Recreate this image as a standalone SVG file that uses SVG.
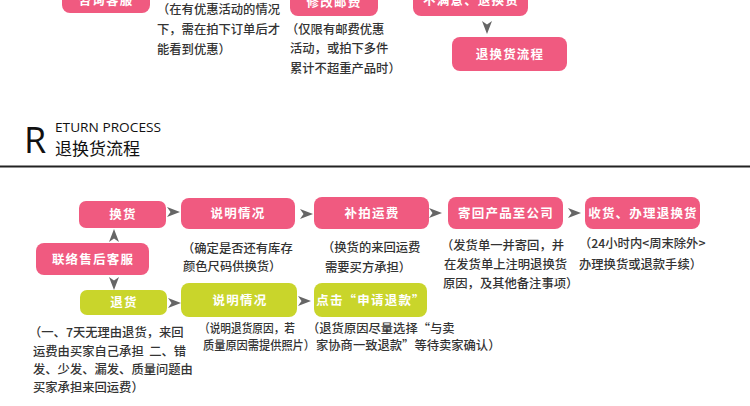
<svg xmlns="http://www.w3.org/2000/svg" width="750" height="406" viewBox="0 0 750 406">
<style>
.pink{fill:#f05a80}
.lime{fill:#c9d52b}
.lbl{font-family:"Noto Sans CJK SC","Noto Sans",sans-serif;font-size:12.5px;font-weight:bold;fill:#ffffff;text-anchor:middle;letter-spacing:1.2px}
.desc{font-family:"Noto Sans CJK SC","Noto Sans",sans-serif;font-size:12.3px;font-weight:500;fill:#333333}
.arw{fill:#666666}
</style>
<defs>
<path id="chev" d="M0,-5 L13,0 L0,5 L3.5,0 Z"/>
</defs>
<rect width="750" height="406" fill="#ffffff"/>

<!-- top partial section -->
<g id="n-zixun"><rect class="pink" x="62" y="-20" width="88" height="33" rx="8"/><text class="lbl" x="106" y="5">咨询客服</text></g>
<g id="n-zixun-desc"><text class="desc" x="157" y="13.5">（在有优惠活动的情况</text><text class="desc" x="157" y="33.5">下，需在拍下订单后才</text><text class="desc" x="157" y="53.5">能看到优惠）</text></g>
<g id="n-xiugai"><rect class="pink" x="290" y="-20" width="88" height="36" rx="8"/><text class="lbl" x="334" y="7">修改邮费</text></g>
<g id="n-xiugai-desc"><text class="desc" x="286" y="33.5">（仅限有邮费优惠</text><text class="desc" x="290" y="52.5">活动，或拍下多件</text><text class="desc" x="290" y="72.5">累计不超重产品时）</text></g>
<g id="n-bumanyi"><rect class="pink" x="413" y="-20" width="115" height="36" rx="8"/><text class="lbl" x="471" y="5">不满意、退换货</text></g>
<g id="n-liucheng"><rect class="pink" x="452" y="37" width="115" height="34" rx="8"/><text class="lbl" x="510" y="58.5">退换货流程</text></g>

<!-- title -->
<g id="title">
<text x="24" y="153" font-family="'Open Sans','DejaVu Sans',sans-serif" font-size="36" fill="#111">R</text>
<text x="55" y="132" font-family="'Open Sans','DejaVu Sans',sans-serif" font-size="13.5" fill="#111" textLength="106" lengthAdjust="spacingAndGlyphs">ETURN PROCESS</text>
<text x="55" y="154.5" font-family="'Noto Sans CJK SC',sans-serif" font-size="17" fill="#111">退换货流程</text>
<line x1="0" y1="166.5" x2="750" y2="166.5" stroke="#222" stroke-width="1.8"/>
</g>

<!-- row 1 -->
<g id="n-huanhuo"><rect class="pink" x="79" y="201" width="87" height="27" rx="7"/><text class="lbl" x="123" y="219">换货</text></g>
<g id="n-shuoming1"><rect class="pink" x="181" y="198" width="114" height="31" rx="8"/><text class="lbl" x="238" y="218">说明情况</text></g>
<g id="n-shuoming1-desc"><text class="desc" x="182" y="252.5">（确定是否还有库存</text><text class="desc" x="183" y="270.5">颜色尺码供换货）</text></g>
<g id="n-bupai"><rect class="pink" x="314" y="197" width="115" height="32" rx="8"/><text class="lbl" x="372" y="217.5">补拍运费</text></g>
<g id="n-bupai-desc"><text class="desc" x="322" y="251.5">（换货的来回运费</text><text class="desc" x="325" y="271.5">需要买方承担）</text></g>
<g id="n-jihui"><rect class="pink" x="448" y="197" width="115" height="32" rx="8"/><text class="lbl" x="506" y="217.5">寄回产品至公司</text></g>
<g id="n-jihui-desc"><text class="desc" x="441" y="249.5">（发货单一并寄回，并</text><text class="desc" x="444" y="268.5">在发货单上注明退换货</text><text class="desc" x="443" y="287.5">原因，及其他备注事项）</text></g>
<g id="n-shouhuo"><rect class="pink" x="585" y="197" width="115" height="32" rx="8"/><text class="lbl" x="643" y="217.5" letter-spacing="0">收货、办理退换货</text></g>
<g id="n-shouhuo-desc"><text class="desc" x="579" y="248">（24小时内&lt;周末除外&gt;</text><text class="desc" x="579" y="269">办理换货或退款手续）</text></g>

<g id="n-lianluo"><rect class="pink" x="36" y="243" width="113" height="32" rx="8"/><text class="lbl" x="93" y="263.5">联络售后客服</text></g>

<!-- row 2 -->
<g id="n-tuihuo"><rect class="lime" x="80" y="290" width="87" height="25" rx="7"/><text class="lbl" x="124" y="307">退货</text></g>
<g id="n-tuihuo-desc"><text class="desc" x="29" y="336.5">（一、7天无理由退货，来回</text><text class="desc" x="33" y="355.5">运费由买家自己承担&#160;&#160;二、错</text><text class="desc" x="33" y="373.5">发、少发、漏发、质量问题由</text><text class="desc" x="33" y="391.5">买家承担来回运费）</text></g>
<g id="n-shuoming2"><rect class="lime" x="181" y="283" width="116" height="34" rx="8"/><text class="lbl" x="240" y="304.5">说明情况</text></g>
<g id="n-shuoming2-desc"><text class="desc" x="199" y="332.5" textLength="96" lengthAdjust="spacingAndGlyphs">（说明退货原因，若</text><text class="desc" x="203" y="349.5" textLength="112" lengthAdjust="spacingAndGlyphs">质量原因需提供照片）</text></g>
<g id="n-dianji"><rect class="lime" x="314" y="283" width="113" height="34" rx="8"/><text class="lbl" x="371" y="304.5" letter-spacing="0.6">点击“申请退款”</text></g>
<g id="n-dianji-desc"><text class="desc" x="307" y="332.5">（退货原因尽量选择“与卖</text><text class="desc" x="316" y="349.5">家协商一致退款”等待卖家确认）</text></g>

<!-- connectors -->
<g id="connectors" class="arw">
<use href="#chev" transform="translate(487,21) rotate(90)"/>
<use href="#chev" transform="translate(167,212)"/>
<use href="#chev" transform="translate(300,214)"/>
<use href="#chev" transform="translate(429,213)"/>
<use href="#chev" transform="translate(568,213)"/>
<use href="#chev" transform="translate(114,242) rotate(-90)"/>
<use href="#chev" transform="translate(114,277) rotate(90)"/>
<use href="#chev" transform="translate(168,303)"/>
<use href="#chev" transform="translate(298,301)"/>
</g>
</svg>
